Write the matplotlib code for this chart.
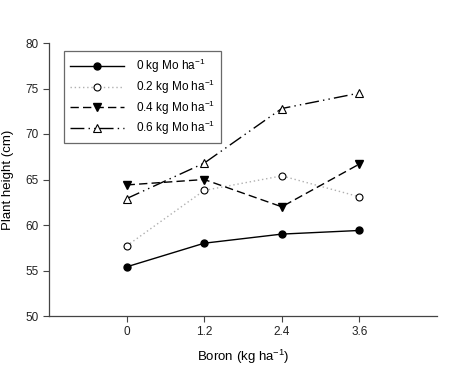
import matplotlib
matplotlib.use("Agg")
import matplotlib.pyplot as plt

plt.rcParams['font.family'] = ['Liberation Sans', 'DejaVu Sans']
plt.rcParams['mathtext.fontset'] = 'custom'
plt.rcParams['mathtext.rm'] = 'Liberation Sans'
plt.rcParams['mathtext.it'] = 'Liberation Sans'

# Data
boron = [0, 1.2, 2.4, 3.6]
mo0 = [55.4, 58.0, 59.0, 59.4]
mo02 = [57.7, 63.8, 65.4, 63.1]
mo04 = [64.4, 65.0, 62.0, 66.7]
mo06 = [62.9, 66.8, 72.8, 74.5]
labels = ['0 kg Mo ha$^{\\mathregular{-1}}$', '0.2 kg Mo ha$^{\\mathregular{-1}}$',
          '0.4 kg Mo ha$^{\\mathregular{-1}}$', '0.6 kg Mo ha$^{\\mathregular{-1}}$']

fig = plt.figure(figsize=(4.74, 3.66), dpi=100)
ax = fig.add_axes([49/474, 1 - 316/366, 388/474, 273/366])

ms = 5
ax.plot(boron, mo0, color='black', lw=1, marker='o', ms=ms,
        mfc='black', mec='black', label=labels[0])
ax.plot(boron, mo02, color='#b0b0b0', lw=1, ls=(0, (1, 2)), marker='o', ms=ms,
        mfc='white', mec='black', mew=0.8, label=labels[1])
ax.plot(boron, mo04, color='black', lw=1, ls=(0, (6, 3)), marker='v', ms=ms + 1,
        mfc='black', mec='black', label=labels[2])
ax.plot(boron, mo06, color='black', lw=1, ls=(0, (10, 3, 1, 3, 1, 3)), marker='^',
        ms=ms + 1, mfc='white', mec='black', mew=0.8, label=labels[3])

ax.set_xlim(-1.2, 4.8)
ax.set_ylim(50, 80)
ax.set_xticks(boron)
ax.set_xticklabels(['0', '1.2', '2.4', '3.6'])
ax.set_yticks(range(50, 81, 5))
ax.tick_params(labelsize=8.5, length=4, width=0.8, color='#444444', labelcolor='#222222')
for s in ['top', 'right']:
    ax.spines[s].set_visible(False)
for s in ['left', 'bottom']:
    ax.spines[s].set_linewidth(0.9)
    ax.spines[s].set_color('#444444')

ax.set_xlabel('Boron (kg ha$^{\\mathregular{-1}}$)', fontsize=9.5, labelpad=7)
ax.set_ylabel('Plant height (cm)', fontsize=9.5, labelpad=8)

leg = ax.legend(loc='upper left', bbox_to_anchor=(0.039, 0.971), borderaxespad=0,
                fontsize=8.5, frameon=True, fancybox=False, handlelength=4.6,
                handletextpad=1.0, labelspacing=0.22, borderpad=0.5)
leg.get_frame().set_edgecolor('#444444')
leg.get_frame().set_linewidth(0.9)

fig.savefig('out.png', dpi=100)
